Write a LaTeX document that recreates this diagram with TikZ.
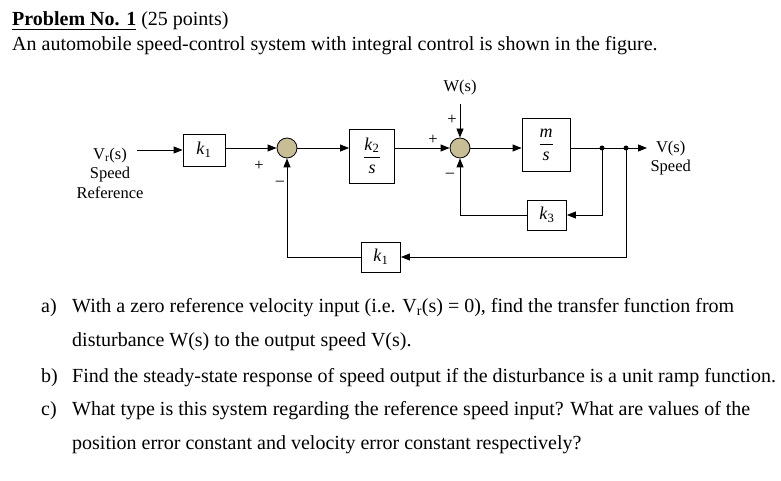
\documentclass[tikz,border=0pt]{standalone}
\usepackage{fontspec}
\setmainfont{Liberation Serif}
\usepackage{amsmath}
\usetikzlibrary{arrows.meta}
\newcommand{\itvar}[1]{\text{\textit{#1}}}
\tikzset{
  block/.style={draw, thick, minimum width=42pt, minimum height=32pt, inner sep=0pt, font=\fontsize{18}{20}\selectfont},
  sumnode/.style={circle, draw, thick, fill={rgb,255:red,200;green,190;blue,150}, minimum size=20pt, inner sep=0pt},
  sig/.style={thick, -{Triangle[length=9pt,width=7pt]}},
  lbl/.style={font=\fontsize{16.5}{19.5}\selectfont},
  txt/.style={anchor=base west, font=\fontsize{20}{23}\selectfont, inner sep=0pt}
}
\begin{document}
\begin{tikzpicture}[x=1pt,y=-1pt]
        \useasboundingbox (0,0) rectangle (781,481);
        % heading
        \node[txt] (title) at (12,26) {\textbf{\underline{Problem No. 1}} (25 points)};
        \node[txt] (intro) at (12,51) {An automobile speed-control system with integral control is shown in the figure.};
        % blocks
        \node[block] (k1a) at (204,150) {\textit{k}\textsubscript{1}};
        \node[sumnode] (s1) at (287,148) {};
        \node[block, minimum width=45pt, minimum height=54pt] (k2) at (372,156) {$\dfrac{\itvar{k}_{\text{2}}}{\itvar{s}}$};
        \node[sumnode] (s2) at (460,148) {};
        \node[block, minimum width=48pt, minimum height=53pt] (ms) at (546,145) {$\dfrac{\itvar{m}}{\itvar{s}}$};
        \node[block, minimum width=39pt, minimum height=30pt] (k3) at (547,215) {\textit{k}\textsubscript{3}};
        \node[block, minimum width=39pt, minimum height=30pt] (k1b) at (381,257) {\textit{k}\textsubscript{1}};
        % labels
        \node[lbl, align=center] (vr) at (110,173) {V\textsubscript{r}(s)\\Speed\\Reference};
        \node[lbl, anchor=west, align=center] (v) at (647,158) {V(s)\\Speed};
        \node[lbl] (w) at (460,88) {W(s)};
        \coordinate (vin) at (137,150);
        \coordinate (wtop) at (460,104);
        \coordinate (d1) at (602,148);
        \coordinate (d2) at (626,148);
        \coordinate (vout) at (647,148);
        \fill (d1) circle (2.5pt) (d2) circle (2.5pt);
        % connectors
        \draw[sig] (vin) -- (k1a);
        \draw[sig] (k1a.east |- s1) -- (s1);
        \draw[sig] (s1) -- (s1 -| k2.west);
        \draw[sig] (s1 -| k2.east) -- (s2);
        \draw[sig] (wtop) -- (s2);
        \draw[sig] (s2) -- (s2 -| ms.west);
        \draw[sig] (ms.east |- d1) -- (vout);
        \draw[sig] (d1) |- (k3);
        \draw[sig] (k3.west) -| (s2);
        \draw[sig] (d2) |- (k1b);
        \draw[sig] (k1b.west) -| (s1);
        % signs
        \node[lbl] (p1) at (259,166) {+};
        \node[lbl] (m1) at (280,183) {--};
        \node[lbl] (p2) at (433,140) {+};
        \node[lbl] (p3) at (452,120) {+};
        \node[lbl] (m2) at (450,175) {--};
        % questions
        \node[txt] (qa) at (41,312) {a)};
        \node[txt] (qa1) at (72,312) {With a zero reference velocity input (i.e. V\textsubscript{r}(s) = 0), find the transfer function from};
        \node[txt] (qa2) at (72,346) {disturbance W(s) to the output speed V(s).};
        \node[txt] (qb) at (41,382) {b)};
        \node[txt] (qb1) at (72,382) {Find the steady-state response of speed output if the disturbance is a unit ramp function.};
        \node[txt] (qc) at (41,415) {c)};
        \node[txt] (qc1) at (72,415) {What type is this system regarding the reference speed input? What are values of the};
        \node[txt] (qc2) at (72,449) {position error constant and velocity error constant respectively?};
\end{tikzpicture}
\end{document}
